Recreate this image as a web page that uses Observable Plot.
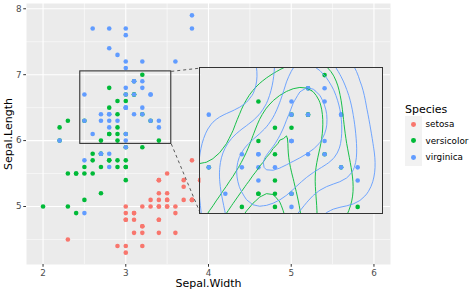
<!DOCTYPE html>
<html><head><meta charset="utf-8">
<script src="https://cdn.jsdelivr.net/npm/d3@7"></script>
<script src="https://cdn.jsdelivr.net/npm/@observablehq/plot@0.6"></script>
<style>
body{margin:0;background:#fff;font-family:"DejaVu Sans",sans-serif;}
#wrap{position:relative;width:474px;height:293px;overflow:hidden;}
#wrap svg{position:absolute;}
.lg-title{font-size:11px;line-height:13px;color:#000;}
.lg-row{display:flex;align-items:center;height:16.5px;}
.lg-key{width:17px;height:16.5px;background:#F2F2F2;display:flex;align-items:center;justify-content:center;}
.lg-dot{width:4.8px;height:4.8px;border-radius:50%;}
.lg-lab{font-size:8.8px;margin-left:3.5px;color:#000;}
</style></head><body><div id="wrap"></div>
<script>
const species = ["setosa","versicolor","virginica"];
const colors = ["#F8766D","#00BA38","#619CFF"];

const setosaLength = [5.1,4.9,4.7,4.6,5.0,5.4,4.6,5.0,4.4,4.9,5.4,4.8,4.8,4.3,5.8,5.7,5.4,5.1,5.7,5.1,5.4,5.1,4.6,5.1,4.8,5.0,5.0,5.2,5.2,4.7,4.8,5.4,5.2,5.5,4.9,5.0,5.5,4.9,4.4,5.1,5.0,4.5,4.4,5.0,5.1,4.8,5.1,4.6,5.3,5.0];
const setosaWidth  = [3.5,3.0,3.2,3.1,3.6,3.9,3.4,3.4,2.9,3.1,3.7,3.4,3.0,3.0,4.0,4.4,3.9,3.5,3.8,3.8,3.4,3.7,3.6,3.3,3.4,3.0,3.4,3.5,3.4,3.2,3.1,3.4,4.1,4.2,3.1,3.2,3.5,3.6,3.0,3.4,3.5,2.3,3.2,3.5,3.8,3.0,3.8,3.2,3.7,3.3];
const versicolorLength = [7.0,6.4,6.9,5.5,6.5,5.7,6.3,4.9,6.6,5.2,5.0,5.9,6.0,6.1,5.6,6.7,5.6,5.8,6.2,5.6,5.9,6.1,6.3,6.1,6.4,6.6,6.8,6.7,6.0,5.7,5.5,5.5,5.8,6.0,5.4,6.0,6.7,6.3,5.6,5.5,5.5,6.1,5.8,5.0,5.6,5.7,5.7,6.2,5.1,5.7];
const versicolorWidth  = [3.2,3.2,3.1,2.3,2.8,2.8,3.3,2.4,2.9,2.7,2.0,3.0,2.2,2.9,2.9,3.1,3.0,2.7,2.2,2.5,3.2,2.8,2.5,2.8,2.9,3.0,2.8,3.0,2.9,2.6,2.4,2.4,2.7,2.7,3.0,3.4,3.1,2.3,3.0,2.5,2.6,3.0,2.6,2.3,2.7,3.0,2.9,2.9,2.5,2.8];
const virginicaLength = [6.3,5.8,7.1,6.3,6.5,7.6,4.9,7.3,6.7,7.2,6.5,6.4,6.8,5.7,5.8,6.4,6.5,7.7,7.7,6.0,6.9,5.6,7.7,6.3,6.7,7.2,6.2,6.1,6.4,7.2,7.4,7.9,6.4,6.3,6.1,7.7,6.3,6.4,6.0,6.9,6.7,6.9,5.8,6.8,6.7,6.7,6.3,6.5,6.2,5.9];
const virginicaWidth  = [3.3,2.7,3.0,2.9,3.0,3.0,2.5,2.9,2.5,3.6,3.2,2.7,3.0,2.5,2.8,3.2,3.0,3.8,2.6,2.2,3.2,2.8,2.8,2.7,3.3,3.2,2.8,3.0,2.8,3.0,2.8,3.8,2.8,2.8,2.6,3.0,3.4,3.1,3.0,3.1,3.1,3.1,2.7,3.2,3.3,3.0,2.5,3.0,3.4,3.0];

const xTicks = [2,3,4,5,6];
const xMinor = [2.5,3.5,4.5,5.5];
const yTicks = [5,6,7,8];
const yMinor = [4.5,5.5,6.5,7.5];
const xLimits = [2, 6];
const xDomain = [1.8, 6.2];
const yDomain = [4.12, 8.08];
// magnify: source window and target window (data units)
const fromX = [2.45, 3.55];
const fromY = [5.95, 7.05];
const toX = [3.9, 6.1];
const toY = [4.9, 7.1];

const lengths = [setosaLength, versicolorLength, virginicaLength];
const widths = [setosaWidth, versicolorWidth, virginicaWidth];
const data = [];
species.forEach((s, k) => lengths[k].forEach((l, i) => data.push({species: s, length: l, width: widths[k][i]})));

// ---- 2D kernel density per species (like MASS::kde2d with bandwidth.nrd), shared contour breaks ----
function nrd(v) {
  const q1 = d3.quantile(v, 0.25), q3 = d3.quantile(v, 0.75);
  return 4 * 1.06 * Math.min(d3.deviation(v), (q3 - q1) / 1.34) * Math.pow(v.length, -0.2);
}
const N = 100;
const kx0 = xLimits[0], kx1 = xLimits[1];
const ky0 = d3.min(lengths.flat()), ky1 = d3.max(lengths.flat());
const gx = d3.range(N).map(i => kx0 + (kx1 - kx0) * i / (N - 1));
const gy = d3.range(N).map(j => ky0 + (ky1 - ky0) * j / (N - 1));
const phi = t => Math.exp(-0.5 * t * t) / Math.sqrt(2 * Math.PI);
function kde(xs, ys) {
  const hx = nrd(xs) / 4, hy = nrd(ys) / 4, n = xs.length;
  const ax = gx.map(g => xs.map(x => phi((g - x) / hx)));
  const ay = gy.map(g => ys.map(y => phi((g - y) / hy)));
  const z = new Float64Array(N * N);
  for (let j = 0; j < N; j++) for (let i = 0; i < N; i++) {
    let s = 0;
    for (let k = 0; k < n; k++) s += ax[i][k] * ay[j][k];
    z[j * N + i] = s / (n * hx * hy);
  }
  return z;
}
const grids = species.map((s, k) => kde(widths[k], lengths[k]));
const zMin = d3.min(grids, g => d3.min(g)), zMax = d3.max(grids, g => d3.max(g));
const levels = d3.ticks(zMin, zMax, 10).filter(v => v > zMin);
const contourPts = [];
let ringId = 0;
species.forEach((s, k) => {
  d3.contours().size([N, N]).thresholds(levels)(Array.from(grids[k])).forEach(mp => {
    mp.coordinates.forEach(poly => poly.forEach(ring => {
      ringId++;
      ring.forEach(([cx, cy]) => contourPts.push({
        species: s, id: ringId,
        width: kx0 + (cx - 0.5) * (kx1 - kx0) / (N - 1),
        length: ky0 + (cy - 0.5) * (ky1 - ky0) / (N - 1)
      }));
    }));
  });
});

const W = 474, H = 293;
const wrap = document.getElementById("wrap");
const color = {domain: species, range: colors};
const ink = "#333333";
const R = 2.3;

const main = Plot.plot({
  width: W, height: H,
  marginLeft: 26, marginRight: 84, marginTop: 3, marginBottom: 29,
  style: {fontFamily: "DejaVu Sans", background: "white", overflow: "visible"},
  x: {domain: xDomain},
  y: {domain: yDomain},
  color,
  marks: [
    Plot.frame({fill: "#EBEBEB"}),
    Plot.gridX(xMinor, {stroke: "white", strokeOpacity: 1, strokeWidth: 0.55}),
    Plot.gridY(yMinor, {stroke: "white", strokeOpacity: 1, strokeWidth: 0.55}),
    Plot.gridX(xTicks, {stroke: "white", strokeOpacity: 1, strokeWidth: 1.1}),
    Plot.gridY(yTicks, {stroke: "white", strokeOpacity: 1, strokeWidth: 1.1}),
    Plot.axisX(xTicks, {tickSize: 2.75, tickPadding: 2.2, fontSize: 8.8, stroke: ink, fill: "#4D4D4D", label: null, tickFormat: d => String(d)}),
    Plot.axisY(yTicks, {tickSize: 2.75, tickPadding: 2.2, fontSize: 8.8, stroke: ink, fill: "#4D4D4D", label: null, tickFormat: d => String(d)}),
    Plot.text(["Sepal.Width"], {frameAnchor: "bottom", text: d => d, lineAnchor: "middle", textAnchor: "middle", dy: 19, fontSize: 11, fill: "black"}),
    Plot.text(["Sepal.Length"], {frameAnchor: "left", text: d => d, lineAnchor: "middle", textAnchor: "middle", rotate: -90, dx: -18, fontSize: 11, fill: "black"}),
    Plot.dot(data, {x: "width", y: "length", fill: "species", r: R}),
    Plot.rect([{x1: fromX[0], x2: fromX[1], y1: fromY[0], y2: fromY[1]}], {x1: "x1", x2: "x2", y1: "y1", y2: "y2", fill: "none", stroke: ink, strokeWidth: 1.1}),
    Plot.link([
      {x1: fromX[1], y1: fromY[1], x2: toX[0], y2: toY[1]},
      {x1: fromX[1], y1: fromY[0], x2: toX[0], y2: toY[0]}
    ], {x1: "x1", y1: "y1", x2: "x2", y2: "y2", stroke: ink, strokeWidth: 0.8, strokeDasharray: "3,3"})
  ]
});
main.style.left = "0px"; main.style.top = "0px";
wrap.appendChild(main);

// inset placement from main scales
const sx = main.scale("x"), sy = main.scale("y");
const iL = sx.apply(toX[0]), iR = sx.apply(toX[1]);
const iT = sy.apply(toY[1]), iB = sy.apply(toY[0]);
const iW = iR - iL, iH = iB - iT;

const inset = Plot.plot({
  width: iW, height: iH, margin: 0,
  style: {background: "transparent", overflow: "hidden"},
  x: {domain: fromX, axis: null},
  y: {domain: fromY, axis: null},
  color,
  marks: [
    Plot.frame({fill: "#EBEBEB"}),
    Plot.dot(data, {x: "width", y: "length", fill: "species", r: R, clip: true}),
    Plot.line(contourPts, {x: "width", y: "length", z: "id", stroke: "species", strokeWidth: 0.9, clip: true})
  ]
});
inset.style.left = iL + "px"; inset.style.top = iT + "px";
wrap.appendChild(inset);

const border = document.createElement("div");
Object.assign(border.style, {position: "absolute", left: (iL - 0.6) + "px", top: (iT - 0.6) + "px", width: iW + "px", height: iH + "px", border: "1.2px solid " + ink, boxSizing: "content-box"});
wrap.appendChild(border);

// legend
const lg = document.createElement("div");
Object.assign(lg.style, {position: "absolute", left: "405px", top: "103px"});
const t = document.createElement("div"); t.className = "lg-title"; t.textContent = "Species"; lg.appendChild(t);
species.forEach((s, k) => {
  const row = document.createElement("div"); row.className = "lg-row";
  const key = document.createElement("div"); key.className = "lg-key";
  const dot = document.createElement("div"); dot.className = "lg-dot"; dot.style.background = colors[k];
  key.appendChild(dot); row.appendChild(key);
  const lab = document.createElement("div"); lab.className = "lg-lab"; lab.textContent = s; row.appendChild(lab);
  lg.appendChild(row);
});
wrap.appendChild(lg);
</script></body></html>
